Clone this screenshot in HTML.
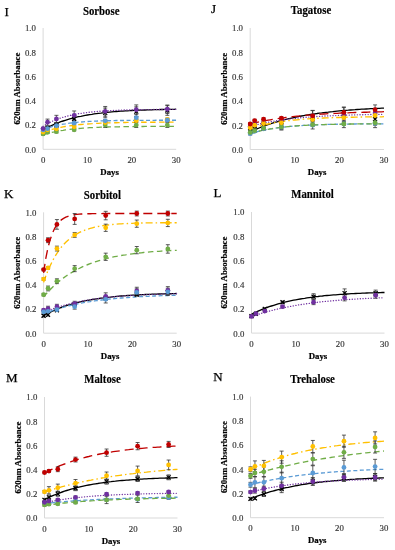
<!DOCTYPE html><html><head><meta charset="utf-8"><style>html,body{margin:0;padding:0;background:#fff;}svg{display:block;will-change:transform;font-family:"Liberation Serif",serif;}.lt{font-size:13px;fill:#000;stroke:#000;stroke-width:.25px}.ti{font-size:10.8px;font-weight:bold;text-anchor:middle;fill:#000;stroke:#000;stroke-width:.15px}.yl{font-size:8.8px;font-weight:bold;text-anchor:middle;fill:#000;stroke:#000;stroke-width:.2px}.tk{font-size:8.8px;fill:#333;stroke:#333;stroke-width:.15px}</style></head><body>
<svg width="395" height="550" viewBox="0 0 395 550">
<rect width="395" height="550" fill="#fff"/>
<text class="lt" x="4.6" y="15.8">I</text>
<text class="ti" transform="translate(101.2,15.00) scale(1,1.18)">Sorbose</text>
<text class="yl" transform="translate(20.2,88.65) rotate(-90) scale(1,0.88)">620nm Absorbance</text>
<text class="tk" x="35.9" y="152.70" text-anchor="end">0.0</text>
<text class="tk" x="35.9" y="128.44" text-anchor="end">0.2</text>
<text class="tk" x="35.9" y="104.18" text-anchor="end">0.4</text>
<text class="tk" x="35.9" y="79.92" text-anchor="end">0.6</text>
<text class="tk" x="35.9" y="55.66" text-anchor="end">0.8</text>
<text class="tk" x="35.9" y="31.40" text-anchor="end">1.0</text>
<text class="tk" x="43.10" y="162.80" text-anchor="middle">0</text>
<text class="tk" x="87.47" y="162.80" text-anchor="middle">10</text>
<text class="tk" x="131.83" y="162.80" text-anchor="middle">20</text>
<text class="tk" x="176.20" y="162.80" text-anchor="middle">30</text>
<text class="yl" x="109.65" y="174.80">Days</text>
<path d="M43.10 28.00V149.30H176.20" fill="none" stroke="#D9D9D9" stroke-width="1"/>
<polyline points="43.1,129.9 45.3,128.6 47.5,127.5 49.8,126.4 52.0,125.3 54.2,124.3 56.4,123.4 58.6,122.6 60.8,121.7 63.1,121.0 65.3,120.3 67.5,119.6 69.7,118.9 71.9,118.3 74.2,117.8 76.4,117.2 78.6,116.7 80.8,116.3 83.0,115.8 85.2,115.4 87.5,115.0 89.7,114.6 91.9,114.3 94.1,113.9 96.3,113.6 98.6,113.3 100.8,113.1 103.0,112.8 105.2,112.6 107.4,112.3 109.7,112.1 111.9,111.9 114.1,111.7 116.3,111.5 118.5,111.4 120.7,111.2 123.0,111.1 125.2,110.9 127.4,110.8 129.6,110.7 131.8,110.5 134.1,110.4 136.3,110.3 138.5,110.2 140.7,110.1 142.9,110.1 145.1,110.0 147.4,109.9 149.6,109.8 151.8,109.8 154.0,109.7 156.2,109.6 158.5,109.6 160.7,109.5 162.9,109.5 165.1,109.4 167.3,109.4 169.5,109.3 171.8,109.3 174.0,109.3 176.2,109.2" fill="none" stroke="#000000" stroke-width="1.35"/>
<polyline points="43.1,134.7 45.3,134.1 47.5,133.4 49.8,132.9 52.0,132.3 54.2,131.9 56.4,131.4 58.6,131.0 60.8,130.6 63.1,130.3 65.3,129.9 67.5,129.6 69.7,129.4 71.9,129.1 74.2,128.9 76.4,128.7 78.6,128.5 80.8,128.3 83.0,128.1 85.2,128.0 87.5,127.9 89.7,127.7 91.9,127.6 94.1,127.5 96.3,127.4 98.6,127.3 100.8,127.2 103.0,127.1 105.2,127.1 107.4,127.0 109.7,126.9 111.9,126.9 114.1,126.8 116.3,126.8 118.5,126.8 120.7,126.7 123.0,126.7 125.2,126.6 127.4,126.6 129.6,126.6 131.8,126.6 134.1,126.5 136.3,126.5 138.5,126.5 140.7,126.5 142.9,126.5 145.1,126.4 147.4,126.4 149.6,126.4 151.8,126.4 154.0,126.4 156.2,126.4 158.5,126.4 160.7,126.4 162.9,126.3 165.1,126.3 167.3,126.3 169.5,126.3 171.8,126.3 174.0,126.3 176.2,126.3" fill="none" stroke="#70AD47" stroke-width="1.35" stroke-dasharray="5.5 3.5"/>
<polyline points="43.1,132.3 45.3,131.5 47.5,130.7 49.8,130.0 52.0,129.4 54.2,128.8 56.4,128.3 58.6,127.8 60.8,127.3 63.1,126.9 65.3,126.5 67.5,126.1 69.7,125.8 71.9,125.5 74.2,125.2 76.4,125.0 78.6,124.7 80.8,124.5 83.0,124.3 85.2,124.1 87.5,124.0 89.7,123.8 91.9,123.7 94.1,123.5 96.3,123.4 98.6,123.3 100.8,123.2 103.0,123.1 105.2,123.0 107.4,122.9 109.7,122.9 111.9,122.8 114.1,122.7 116.3,122.7 118.5,122.6 120.7,122.6 123.0,122.5 125.2,122.5 127.4,122.4 129.6,122.4 131.8,122.4 134.1,122.3 136.3,122.3 138.5,122.3 140.7,122.3 142.9,122.2 145.1,122.2 147.4,122.2 149.6,122.2 151.8,122.2 154.0,122.2 156.2,122.2 158.5,122.1 160.7,122.1 162.9,122.1 165.1,122.1 167.3,122.1 169.5,122.1 171.8,122.1 174.0,122.1 176.2,122.1" fill="none" stroke="#FFC000" stroke-width="1.35" stroke-dasharray="5.5 3.5"/>
<polyline points="43.1,129.9 45.3,129.0 47.5,128.1 49.8,127.4 52.0,126.7 54.2,126.1 56.4,125.5 58.6,125.0 60.8,124.5 63.1,124.1 65.3,123.8 67.5,123.4 69.7,123.1 71.9,122.8 74.2,122.6 76.4,122.4 78.6,122.1 80.8,122.0 83.0,121.8 85.2,121.6 87.5,121.5 89.7,121.4 91.9,121.3 94.1,121.2 96.3,121.1 98.6,121.0 100.8,120.9 103.0,120.8 105.2,120.8 107.4,120.7 109.7,120.7 111.9,120.6 114.1,120.6 116.3,120.5 118.5,120.5 120.7,120.5 123.0,120.5 125.2,120.4 127.4,120.4 129.6,120.4 131.8,120.4 134.1,120.3 136.3,120.3 138.5,120.3 140.7,120.3 142.9,120.3 145.1,120.3 147.4,120.3 149.6,120.3 151.8,120.3 154.0,120.3 156.2,120.2 158.5,120.2 160.7,120.2 162.9,120.2 165.1,120.2 167.3,120.2 169.5,120.2 171.8,120.2 174.0,120.2 176.2,120.2" fill="none" stroke="#5B9BD5" stroke-width="1.35" stroke-dasharray="4 2.5"/>
<polyline points="43.1,126.3 45.3,124.9 47.5,123.6 49.8,122.5 52.0,121.4 54.2,120.5 56.4,119.6 58.6,118.7 60.8,118.0 63.1,117.3 65.3,116.7 67.5,116.1 69.7,115.5 71.9,115.0 74.2,114.6 76.4,114.1 78.6,113.7 80.8,113.4 83.0,113.1 85.2,112.8 87.5,112.5 89.7,112.2 91.9,112.0 94.1,111.8 96.3,111.6 98.6,111.4 100.8,111.2 103.0,111.1 105.2,110.9 107.4,110.8 109.7,110.7 111.9,110.6 114.1,110.5 116.3,110.4 118.5,110.3 120.7,110.2 123.0,110.1 125.2,110.0 127.4,110.0 129.6,109.9 131.8,109.9 134.1,109.8 136.3,109.8 138.5,109.7 140.7,109.7 142.9,109.7 145.1,109.6 147.4,109.6 149.6,109.6 151.8,109.6 154.0,109.5 156.2,109.5 158.5,109.5 160.7,109.5 162.9,109.5 165.1,109.4 167.3,109.4 169.5,109.4 171.8,109.4 174.0,109.4 176.2,109.4" fill="none" stroke="#7030A0" stroke-width="1.35" stroke-dasharray="0.1 2.6" stroke-linecap="round"/>
<path d="M43.10 128.68V131.11M41.10 128.68h4M41.10 131.11h4" stroke="#333333" stroke-width="0.8" fill="none"/>
<path d="M47.54 126.62V129.04M45.54 126.62h4M45.54 129.04h4" stroke="#333333" stroke-width="0.8" fill="none"/>
<path d="M56.41 122.61V127.47M54.41 122.61h4M54.41 127.47h4" stroke="#333333" stroke-width="0.8" fill="none"/>
<path d="M74.16 115.34V122.61M72.16 115.34h4M72.16 122.61h4" stroke="#333333" stroke-width="0.8" fill="none"/>
<path d="M105.21 108.06V117.76M103.21 108.06h4M103.21 117.76h4" stroke="#333333" stroke-width="0.8" fill="none"/>
<path d="M136.27 106.85V116.55M134.27 106.85h4M134.27 116.55h4" stroke="#333333" stroke-width="0.8" fill="none"/>
<path d="M167.33 105.63V115.34M165.33 105.63h4M165.33 115.34h4" stroke="#333333" stroke-width="0.8" fill="none"/>
<path d="M43.10 132.68V135.11M41.10 132.68h4M41.10 135.11h4" stroke="#333333" stroke-width="0.8" fill="none"/>
<path d="M47.54 131.11V133.53M45.54 131.11h4M45.54 133.53h4" stroke="#333333" stroke-width="0.8" fill="none"/>
<path d="M56.41 130.50V132.92M54.41 130.50h4M54.41 132.92h4" stroke="#333333" stroke-width="0.8" fill="none"/>
<path d="M74.16 128.56V130.98M72.16 128.56h4M72.16 130.98h4" stroke="#333333" stroke-width="0.8" fill="none"/>
<path d="M105.21 122.61V127.47M103.21 122.61h4M103.21 127.47h4" stroke="#333333" stroke-width="0.8" fill="none"/>
<path d="M136.27 122.61V127.47M134.27 122.61h4M134.27 127.47h4" stroke="#333333" stroke-width="0.8" fill="none"/>
<path d="M167.33 122.61V127.47M165.33 122.61h4M165.33 127.47h4" stroke="#333333" stroke-width="0.8" fill="none"/>
<path d="M43.10 130.86V133.29M41.10 130.86h4M41.10 133.29h4" stroke="#333333" stroke-width="0.8" fill="none"/>
<path d="M47.54 128.56V130.98M45.54 128.56h4M45.54 130.98h4" stroke="#333333" stroke-width="0.8" fill="none"/>
<path d="M56.41 127.59V130.01M54.41 127.59h4M54.41 130.01h4" stroke="#333333" stroke-width="0.8" fill="none"/>
<path d="M74.16 125.53V127.95M72.16 125.53h4M72.16 127.95h4" stroke="#333333" stroke-width="0.8" fill="none"/>
<path d="M105.21 121.40V123.83M103.21 121.40h4M103.21 123.83h4" stroke="#333333" stroke-width="0.8" fill="none"/>
<path d="M136.27 119.46V121.89M134.27 119.46h4M134.27 121.89h4" stroke="#333333" stroke-width="0.8" fill="none"/>
<path d="M167.33 118.13V120.55M165.33 118.13h4M165.33 120.55h4" stroke="#333333" stroke-width="0.8" fill="none"/>
<path d="M43.10 128.68V131.11M41.10 128.68h4M41.10 131.11h4" stroke="#333333" stroke-width="0.8" fill="none"/>
<path d="M47.54 127.47V129.89M45.54 127.47h4M45.54 129.89h4" stroke="#333333" stroke-width="0.8" fill="none"/>
<path d="M56.41 124.55V126.98M54.41 124.55h4M54.41 126.98h4" stroke="#333333" stroke-width="0.8" fill="none"/>
<path d="M74.16 122.01V124.43M72.16 122.01h4M72.16 124.43h4" stroke="#333333" stroke-width="0.8" fill="none"/>
<path d="M105.21 119.58V122.01M103.21 119.58h4M103.21 122.01h4" stroke="#333333" stroke-width="0.8" fill="none"/>
<path d="M136.27 116.55V118.98M134.27 116.55h4M134.27 118.98h4" stroke="#333333" stroke-width="0.8" fill="none"/>
<path d="M167.33 118.98V121.40M165.33 118.98h4M165.33 121.40h4" stroke="#333333" stroke-width="0.8" fill="none"/>
<path d="M43.10 127.34V129.77M41.10 127.34h4M41.10 129.77h4" stroke="#333333" stroke-width="0.8" fill="none"/>
<path d="M47.54 119.10V125.40M45.54 119.10h4M45.54 125.40h4" stroke="#333333" stroke-width="0.8" fill="none"/>
<path d="M56.41 115.34V122.61M54.41 115.34h4M54.41 122.61h4" stroke="#333333" stroke-width="0.8" fill="none"/>
<path d="M74.16 110.97V119.70M72.16 110.97h4M72.16 119.70h4" stroke="#333333" stroke-width="0.8" fill="none"/>
<path d="M105.21 106.48V116.19M103.21 106.48h4M103.21 116.19h4" stroke="#333333" stroke-width="0.8" fill="none"/>
<path d="M136.27 104.90V114.61M134.27 104.90h4M134.27 114.61h4" stroke="#333333" stroke-width="0.8" fill="none"/>
<path d="M167.33 105.03V113.52M165.33 105.03h4M165.33 113.52h4" stroke="#333333" stroke-width="0.8" fill="none"/>
<path d="M41.10 127.89l4 4M41.10 131.89l4 -4" stroke="#000" stroke-width="1.2"/>
<path d="M45.54 125.83l4 4M45.54 129.83l4 -4" stroke="#000" stroke-width="1.2"/>
<path d="M54.41 123.04l4 4M54.41 127.04l4 -4" stroke="#000" stroke-width="1.2"/>
<path d="M72.16 116.98l4 4M72.16 120.98l4 -4" stroke="#000" stroke-width="1.2"/>
<path d="M103.21 110.91l4 4M103.21 114.91l4 -4" stroke="#000" stroke-width="1.2"/>
<path d="M134.27 109.70l4 4M134.27 113.70l4 -4" stroke="#000" stroke-width="1.2"/>
<path d="M165.33 108.48l4 4M165.33 112.48l4 -4" stroke="#000" stroke-width="1.2"/>
<circle cx="43.10" cy="133.89" r="2.4" fill="#70AD47"/>
<circle cx="47.54" cy="132.32" r="2.4" fill="#70AD47"/>
<circle cx="56.41" cy="131.71" r="2.4" fill="#70AD47"/>
<circle cx="74.16" cy="129.77" r="2.4" fill="#70AD47"/>
<circle cx="105.21" cy="125.04" r="2.4" fill="#70AD47"/>
<circle cx="136.27" cy="125.04" r="2.4" fill="#70AD47"/>
<circle cx="167.33" cy="125.04" r="2.4" fill="#70AD47"/>
<circle cx="43.10" cy="132.08" r="2.4" fill="#FFC000"/>
<circle cx="47.54" cy="129.77" r="2.4" fill="#FFC000"/>
<circle cx="56.41" cy="128.80" r="2.4" fill="#FFC000"/>
<circle cx="74.16" cy="126.74" r="2.4" fill="#FFC000"/>
<circle cx="105.21" cy="122.61" r="2.4" fill="#FFC000"/>
<circle cx="136.27" cy="120.67" r="2.4" fill="#FFC000"/>
<circle cx="167.33" cy="119.34" r="2.4" fill="#FFC000"/>
<circle cx="43.10" cy="129.89" r="2.4" fill="#5B9BD5"/>
<circle cx="47.54" cy="128.68" r="2.4" fill="#5B9BD5"/>
<circle cx="56.41" cy="125.77" r="2.4" fill="#5B9BD5"/>
<circle cx="74.16" cy="123.22" r="2.4" fill="#5B9BD5"/>
<circle cx="105.21" cy="120.79" r="2.4" fill="#5B9BD5"/>
<circle cx="136.27" cy="117.76" r="2.4" fill="#5B9BD5"/>
<circle cx="167.33" cy="120.19" r="2.4" fill="#5B9BD5"/>
<circle cx="43.10" cy="128.56" r="2.4" fill="#7030A0"/>
<circle cx="47.54" cy="122.25" r="2.4" fill="#7030A0"/>
<circle cx="56.41" cy="118.98" r="2.4" fill="#7030A0"/>
<circle cx="74.16" cy="115.34" r="2.4" fill="#7030A0"/>
<circle cx="105.21" cy="111.33" r="2.4" fill="#7030A0"/>
<circle cx="136.27" cy="109.76" r="2.4" fill="#7030A0"/>
<circle cx="167.33" cy="109.27" r="2.4" fill="#7030A0"/>
<text class="lt" x="210.9" y="12.7">J</text>
<text class="ti" transform="translate(311,14.00) scale(1,1.18)">Tagatose</text>
<text class="yl" transform="translate(226.89999999999998,88.75) rotate(-90) scale(1,0.88)">620nm Absorbance</text>
<text class="tk" x="243.0" y="152.90" text-anchor="end">0.0</text>
<text class="tk" x="243.0" y="128.60" text-anchor="end">0.2</text>
<text class="tk" x="243.0" y="104.30" text-anchor="end">0.4</text>
<text class="tk" x="243.0" y="80.00" text-anchor="end">0.6</text>
<text class="tk" x="243.0" y="55.70" text-anchor="end">0.8</text>
<text class="tk" x="243.0" y="31.40" text-anchor="end">1.0</text>
<text class="tk" x="250.20" y="163.00" text-anchor="middle">0</text>
<text class="tk" x="294.80" y="163.00" text-anchor="middle">10</text>
<text class="tk" x="339.40" y="163.00" text-anchor="middle">20</text>
<text class="tk" x="384.00" y="163.00" text-anchor="middle">30</text>
<text class="yl" x="317.10" y="175.00">Days</text>
<path d="M250.20 28.00V149.50H384.00" fill="none" stroke="#D9D9D9" stroke-width="1"/>
<polyline points="250.2,132.0 252.4,130.9 254.7,129.9 256.9,128.9 259.1,128.0 261.3,127.1 263.6,126.3 265.8,125.4 268.0,124.6 270.3,123.9 272.5,123.1 274.7,122.4 277.0,121.8 279.2,121.1 281.4,120.5 283.6,119.9 285.9,119.4 288.1,118.8 290.3,118.3 292.6,117.8 294.8,117.3 297.0,116.8 299.3,116.4 301.5,116.0 303.7,115.6 305.9,115.2 308.2,114.8 310.4,114.4 312.6,114.1 314.9,113.8 317.1,113.5 319.3,113.1 321.6,112.9 323.8,112.6 326.0,112.3 328.2,112.1 330.5,111.8 332.7,111.6 334.9,111.3 337.2,111.1 339.4,110.9 341.6,110.7 343.9,110.5 346.1,110.3 348.3,110.2 350.6,110.0 352.8,109.8 355.0,109.7 357.2,109.5 359.5,109.4 361.7,109.2 363.9,109.1 366.2,109.0 368.4,108.9 370.6,108.7 372.9,108.6 375.1,108.5 377.3,108.4 379.5,108.3 381.8,108.2 384.0,108.1" fill="none" stroke="#000000" stroke-width="1.35"/>
<polyline points="250.2,133.7 252.4,133.0 254.7,132.4 256.9,131.8 259.1,131.2 261.3,130.7 263.6,130.2 265.8,129.7 268.0,129.3 270.3,128.9 272.5,128.6 274.7,128.2 277.0,127.9 279.2,127.6 281.4,127.3 283.6,127.1 285.9,126.8 288.1,126.6 290.3,126.4 292.6,126.2 294.8,126.0 297.0,125.9 299.3,125.7 301.5,125.6 303.7,125.4 305.9,125.3 308.2,125.2 310.4,125.1 312.6,125.0 314.9,124.9 317.1,124.8 319.3,124.7 321.6,124.6 323.8,124.6 326.0,124.5 328.2,124.4 330.5,124.4 332.7,124.3 334.9,124.3 337.2,124.2 339.4,124.2 341.6,124.2 343.9,124.1 346.1,124.1 348.3,124.1 350.6,124.0 352.8,124.0 355.0,124.0 357.2,123.9 359.5,123.9 361.7,123.9 363.9,123.9 366.2,123.9 368.4,123.8 370.6,123.8 372.9,123.8 375.1,123.8 377.3,123.8 379.5,123.8 381.8,123.8 384.0,123.8" fill="none" stroke="#5B9BD5" stroke-width="1.35" stroke-dasharray="4 2.5"/>
<polyline points="250.2,133.7 252.4,133.0 254.7,132.4 256.9,131.8 259.1,131.2 261.3,130.7 263.6,130.2 265.8,129.7 268.0,129.3 270.3,128.9 272.5,128.6 274.7,128.2 277.0,127.9 279.2,127.6 281.4,127.3 283.6,127.1 285.9,126.8 288.1,126.6 290.3,126.4 292.6,126.2 294.8,126.0 297.0,125.9 299.3,125.7 301.5,125.6 303.7,125.4 305.9,125.3 308.2,125.2 310.4,125.1 312.6,125.0 314.9,124.9 317.1,124.8 319.3,124.7 321.6,124.6 323.8,124.6 326.0,124.5 328.2,124.4 330.5,124.4 332.7,124.3 334.9,124.3 337.2,124.2 339.4,124.2 341.6,124.2 343.9,124.1 346.1,124.1 348.3,124.1 350.6,124.0 352.8,124.0 355.0,124.0 357.2,123.9 359.5,123.9 361.7,123.9 363.9,123.9 366.2,123.9 368.4,123.8 370.6,123.8 372.9,123.8 375.1,123.8 377.3,123.8 379.5,123.8 381.8,123.8 384.0,123.8" fill="none" stroke="#70AD47" stroke-width="1.35" stroke-dasharray="5.5 3.5"/>
<polyline points="250.2,126.4 252.4,125.8 254.7,125.2 256.9,124.6 259.1,124.1 261.3,123.6 263.6,123.1 265.8,122.6 268.0,122.2 270.3,121.8 272.5,121.4 274.7,121.0 277.0,120.7 279.2,120.3 281.4,120.0 283.6,119.7 285.9,119.4 288.1,119.1 290.3,118.8 292.6,118.6 294.8,118.4 297.0,118.1 299.3,117.9 301.5,117.7 303.7,117.5 305.9,117.3 308.2,117.1 310.4,117.0 312.6,116.8 314.9,116.7 317.1,116.5 319.3,116.4 321.6,116.2 323.8,116.1 326.0,116.0 328.2,115.9 330.5,115.8 332.7,115.7 334.9,115.6 337.2,115.5 339.4,115.4 341.6,115.3 343.9,115.2 346.1,115.1 348.3,115.1 350.6,115.0 352.8,114.9 355.0,114.9 357.2,114.8 359.5,114.8 361.7,114.7 363.9,114.7 366.2,114.6 368.4,114.6 370.6,114.5 372.9,114.5 375.1,114.4 377.3,114.4 379.5,114.4 381.8,114.3 384.0,114.3" fill="none" stroke="#7030A0" stroke-width="1.35" stroke-dasharray="0.1 2.6" stroke-linecap="round"/>
<polyline points="250.2,128.8 252.4,128.1 254.7,127.4 256.9,126.7 259.1,126.1 261.3,125.5 263.6,125.0 265.8,124.5 268.0,124.0 270.3,123.5 272.5,123.1 274.7,122.7 277.0,122.3 279.2,122.0 281.4,121.6 283.6,121.3 285.9,121.0 288.1,120.7 290.3,120.5 292.6,120.2 294.8,120.0 297.0,119.8 299.3,119.6 301.5,119.4 303.7,119.2 305.9,119.0 308.2,118.9 310.4,118.7 312.6,118.6 314.9,118.5 317.1,118.4 319.3,118.2 321.6,118.1 323.8,118.0 326.0,117.9 328.2,117.8 330.5,117.8 332.7,117.7 334.9,117.6 337.2,117.5 339.4,117.5 341.6,117.4 343.9,117.3 346.1,117.3 348.3,117.2 350.6,117.2 352.8,117.2 355.0,117.1 357.2,117.1 359.5,117.0 361.7,117.0 363.9,117.0 366.2,116.9 368.4,116.9 370.6,116.9 372.9,116.9 375.1,116.8 377.3,116.8 379.5,116.8 381.8,116.8 384.0,116.7" fill="none" stroke="#FFC000" stroke-width="1.35" stroke-dasharray="7 3 1.5 3"/>
<polyline points="250.2,124.0 252.4,123.4 254.7,122.9 256.9,122.4 259.1,121.9 261.3,121.5 263.6,121.0 265.8,120.6 268.0,120.2 270.3,119.8 272.5,119.4 274.7,119.1 277.0,118.7 279.2,118.4 281.4,118.1 283.6,117.8 285.9,117.5 288.1,117.2 290.3,116.9 292.6,116.7 294.8,116.4 297.0,116.2 299.3,116.0 301.5,115.7 303.7,115.5 305.9,115.3 308.2,115.1 310.4,115.0 312.6,114.8 314.9,114.6 317.1,114.4 319.3,114.3 321.6,114.1 323.8,114.0 326.0,113.9 328.2,113.7 330.5,113.6 332.7,113.5 334.9,113.4 337.2,113.3 339.4,113.1 341.6,113.0 343.9,112.9 346.1,112.8 348.3,112.8 350.6,112.7 352.8,112.6 355.0,112.5 357.2,112.4 359.5,112.4 361.7,112.3 363.9,112.2 366.2,112.2 368.4,112.1 370.6,112.0 372.9,112.0 375.1,111.9 377.3,111.9 379.5,111.8 381.8,111.8 384.0,111.7" fill="none" stroke="#C00000" stroke-width="1.35" stroke-dasharray="9 5"/>
<path d="M250.20 130.06V132.49M248.20 130.06h4M248.20 132.49h4" stroke="#333333" stroke-width="0.8" fill="none"/>
<path d="M254.66 127.63V130.06M252.66 127.63h4M252.66 130.06h4" stroke="#333333" stroke-width="0.8" fill="none"/>
<path d="M263.58 122.77V130.06M261.58 122.77h4M261.58 130.06h4" stroke="#333333" stroke-width="0.8" fill="none"/>
<path d="M281.42 120.34V130.06M279.42 120.34h4M279.42 130.06h4" stroke="#333333" stroke-width="0.8" fill="none"/>
<path d="M312.64 110.62V122.77M310.64 110.62h4M310.64 122.77h4" stroke="#333333" stroke-width="0.8" fill="none"/>
<path d="M343.86 106.97V121.56M341.86 106.97h4M341.86 121.56h4" stroke="#333333" stroke-width="0.8" fill="none"/>
<path d="M375.08 113.05V125.20M373.08 113.05h4M373.08 125.20h4" stroke="#333333" stroke-width="0.8" fill="none"/>
<path d="M250.20 132.49V134.92M248.20 132.49h4M248.20 134.92h4" stroke="#333333" stroke-width="0.8" fill="none"/>
<path d="M254.66 130.06V132.49M252.66 130.06h4M252.66 132.49h4" stroke="#333333" stroke-width="0.8" fill="none"/>
<path d="M263.58 127.63V130.06M261.58 127.63h4M261.58 130.06h4" stroke="#333333" stroke-width="0.8" fill="none"/>
<path d="M281.42 125.81V128.24M279.42 125.81h4M279.42 128.24h4" stroke="#333333" stroke-width="0.8" fill="none"/>
<path d="M312.64 123.98V126.41M310.64 123.98h4M310.64 126.41h4" stroke="#333333" stroke-width="0.8" fill="none"/>
<path d="M343.86 122.77V125.20M341.86 122.77h4M341.86 125.20h4" stroke="#333333" stroke-width="0.8" fill="none"/>
<path d="M375.08 122.16V124.59M373.08 122.16h4M373.08 124.59h4" stroke="#333333" stroke-width="0.8" fill="none"/>
<path d="M250.20 131.28V133.71M248.20 131.28h4M248.20 133.71h4" stroke="#333333" stroke-width="0.8" fill="none"/>
<path d="M254.66 129.45V131.88M252.66 129.45h4M252.66 131.88h4" stroke="#333333" stroke-width="0.8" fill="none"/>
<path d="M263.58 127.02V129.45M261.58 127.02h4M261.58 129.45h4" stroke="#333333" stroke-width="0.8" fill="none"/>
<path d="M281.42 124.47V129.33M279.42 124.47h4M279.42 129.33h4" stroke="#333333" stroke-width="0.8" fill="none"/>
<path d="M312.64 120.46V128.97M310.64 120.46h4M310.64 128.97h4" stroke="#333333" stroke-width="0.8" fill="none"/>
<path d="M343.86 120.34V127.63M341.86 120.34h4M341.86 127.63h4" stroke="#333333" stroke-width="0.8" fill="none"/>
<path d="M375.08 117.91V127.63M373.08 117.91h4M373.08 127.63h4" stroke="#333333" stroke-width="0.8" fill="none"/>
<path d="M250.20 125.20V127.63M248.20 125.20h4M248.20 127.63h4" stroke="#333333" stroke-width="0.8" fill="none"/>
<path d="M254.66 122.77V125.20M252.66 122.77h4M252.66 125.20h4" stroke="#333333" stroke-width="0.8" fill="none"/>
<path d="M263.58 121.56V123.98M261.58 121.56h4M261.58 123.98h4" stroke="#333333" stroke-width="0.8" fill="none"/>
<path d="M281.42 119.12V121.56M279.42 119.12h4M279.42 121.56h4" stroke="#333333" stroke-width="0.8" fill="none"/>
<path d="M312.64 114.87V117.30M310.64 114.87h4M310.64 117.30h4" stroke="#333333" stroke-width="0.8" fill="none"/>
<path d="M343.86 113.66V116.09M341.86 113.66h4M341.86 116.09h4" stroke="#333333" stroke-width="0.8" fill="none"/>
<path d="M375.08 111.84V114.27M373.08 111.84h4M373.08 114.27h4" stroke="#333333" stroke-width="0.8" fill="none"/>
<path d="M250.20 126.41V128.84M248.20 126.41h4M248.20 128.84h4" stroke="#333333" stroke-width="0.8" fill="none"/>
<path d="M254.66 123.98V126.41M252.66 123.98h4M252.66 126.41h4" stroke="#333333" stroke-width="0.8" fill="none"/>
<path d="M263.58 122.28V124.71M261.58 122.28h4M261.58 124.71h4" stroke="#333333" stroke-width="0.8" fill="none"/>
<path d="M281.42 121.56V123.98M279.42 121.56h4M279.42 123.98h4" stroke="#333333" stroke-width="0.8" fill="none"/>
<path d="M312.64 118.40V120.83M310.64 118.40h4M310.64 120.83h4" stroke="#333333" stroke-width="0.8" fill="none"/>
<path d="M343.86 116.45V118.88M341.86 116.45h4M341.86 118.88h4" stroke="#333333" stroke-width="0.8" fill="none"/>
<path d="M375.08 114.26V116.69M373.08 114.26h4M373.08 116.69h4" stroke="#333333" stroke-width="0.8" fill="none"/>
<path d="M250.20 122.77V125.20M248.20 122.77h4M248.20 125.20h4" stroke="#333333" stroke-width="0.8" fill="none"/>
<path d="M254.66 119.37V121.80M252.66 119.37h4M252.66 121.80h4" stroke="#333333" stroke-width="0.8" fill="none"/>
<path d="M263.58 118.03V120.46M261.58 118.03h4M261.58 120.46h4" stroke="#333333" stroke-width="0.8" fill="none"/>
<path d="M281.42 116.94V119.37M279.42 116.94h4M279.42 119.37h4" stroke="#333333" stroke-width="0.8" fill="none"/>
<path d="M312.64 110.38V121.31M310.64 110.38h4M310.64 121.31h4" stroke="#333333" stroke-width="0.8" fill="none"/>
<path d="M343.86 107.58V117.30M341.86 107.58h4M341.86 117.30h4" stroke="#333333" stroke-width="0.8" fill="none"/>
<path d="M375.08 104.91V114.63M373.08 104.91h4M373.08 114.63h4" stroke="#333333" stroke-width="0.8" fill="none"/>
<path d="M248.20 129.28l4 4M248.20 133.28l4 -4" stroke="#000" stroke-width="1.2"/>
<path d="M252.66 126.84l4 4M252.66 130.84l4 -4" stroke="#000" stroke-width="1.2"/>
<path d="M261.58 124.41l4 4M261.58 128.41l4 -4" stroke="#000" stroke-width="1.2"/>
<path d="M279.42 123.20l4 4M279.42 127.20l4 -4" stroke="#000" stroke-width="1.2"/>
<path d="M310.64 114.69l4 4M310.64 118.69l4 -4" stroke="#000" stroke-width="1.2"/>
<path d="M341.86 112.27l4 4M341.86 116.27l4 -4" stroke="#000" stroke-width="1.2"/>
<path d="M373.08 117.12l4 4M373.08 121.12l4 -4" stroke="#000" stroke-width="1.2"/>
<circle cx="250.20" cy="133.71" r="2.4" fill="#5B9BD5"/>
<circle cx="254.66" cy="131.28" r="2.4" fill="#5B9BD5"/>
<circle cx="263.58" cy="128.84" r="2.4" fill="#5B9BD5"/>
<circle cx="281.42" cy="127.02" r="2.4" fill="#5B9BD5"/>
<circle cx="312.64" cy="125.20" r="2.4" fill="#5B9BD5"/>
<circle cx="343.86" cy="123.98" r="2.4" fill="#5B9BD5"/>
<circle cx="375.08" cy="123.38" r="2.4" fill="#5B9BD5"/>
<circle cx="250.20" cy="132.49" r="2.4" fill="#70AD47"/>
<circle cx="254.66" cy="130.67" r="2.4" fill="#70AD47"/>
<circle cx="263.58" cy="128.24" r="2.4" fill="#70AD47"/>
<circle cx="281.42" cy="126.90" r="2.4" fill="#70AD47"/>
<circle cx="312.64" cy="124.71" r="2.4" fill="#70AD47"/>
<circle cx="343.86" cy="123.98" r="2.4" fill="#70AD47"/>
<circle cx="375.08" cy="122.77" r="2.4" fill="#70AD47"/>
<circle cx="250.20" cy="126.41" r="2.4" fill="#7030A0"/>
<circle cx="254.66" cy="123.98" r="2.4" fill="#7030A0"/>
<circle cx="263.58" cy="122.77" r="2.4" fill="#7030A0"/>
<circle cx="281.42" cy="120.34" r="2.4" fill="#7030A0"/>
<circle cx="312.64" cy="116.09" r="2.4" fill="#7030A0"/>
<circle cx="343.86" cy="114.87" r="2.4" fill="#7030A0"/>
<circle cx="375.08" cy="113.05" r="2.4" fill="#7030A0"/>
<circle cx="250.20" cy="127.63" r="2.4" fill="#FFC000"/>
<circle cx="254.66" cy="125.20" r="2.4" fill="#FFC000"/>
<circle cx="263.58" cy="123.50" r="2.4" fill="#FFC000"/>
<circle cx="281.42" cy="122.77" r="2.4" fill="#FFC000"/>
<circle cx="312.64" cy="119.61" r="2.4" fill="#FFC000"/>
<circle cx="343.86" cy="117.67" r="2.4" fill="#FFC000"/>
<circle cx="375.08" cy="115.48" r="2.4" fill="#FFC000"/>
<circle cx="250.20" cy="123.98" r="2.4" fill="#C00000"/>
<circle cx="254.66" cy="120.58" r="2.4" fill="#C00000"/>
<circle cx="263.58" cy="119.25" r="2.4" fill="#C00000"/>
<circle cx="281.42" cy="118.15" r="2.4" fill="#C00000"/>
<circle cx="312.64" cy="115.84" r="2.4" fill="#C00000"/>
<circle cx="343.86" cy="112.44" r="2.4" fill="#C00000"/>
<circle cx="375.08" cy="109.77" r="2.4" fill="#C00000"/>
<text class="lt" x="3.9" y="197.8">K</text>
<text class="ti" transform="translate(102.4,198.90) scale(1,1.18)">Sorbitol</text>
<text class="yl" transform="translate(20.3,272.75) rotate(-90) scale(1,0.88)">620nm Absorbance</text>
<text class="tk" x="36.4" y="336.60" text-anchor="end">0.0</text>
<text class="tk" x="36.4" y="312.42" text-anchor="end">0.2</text>
<text class="tk" x="36.4" y="288.24" text-anchor="end">0.4</text>
<text class="tk" x="36.4" y="264.06" text-anchor="end">0.6</text>
<text class="tk" x="36.4" y="239.88" text-anchor="end">0.8</text>
<text class="tk" x="36.4" y="215.70" text-anchor="end">1.0</text>
<text class="tk" x="43.60" y="346.70" text-anchor="middle">0</text>
<text class="tk" x="87.97" y="346.70" text-anchor="middle">10</text>
<text class="tk" x="132.33" y="346.70" text-anchor="middle">20</text>
<text class="tk" x="176.70" y="346.70" text-anchor="middle">30</text>
<text class="yl" x="110.15" y="358.70">Days</text>
<path d="M43.60 212.30V333.20H176.70" fill="none" stroke="#D9D9D9" stroke-width="1"/>
<polyline points="43.6,315.8 45.8,314.5 48.0,313.4 50.3,312.2 52.5,311.2 54.7,310.2 56.9,309.2 59.1,308.4 61.3,307.5 63.6,306.7 65.8,305.9 68.0,305.2 70.2,304.6 72.4,303.9 74.7,303.3 76.9,302.7 79.1,302.2 81.3,301.7 83.5,301.2 85.7,300.7 88.0,300.3 90.2,299.9 92.4,299.5 94.6,299.1 96.8,298.8 99.1,298.5 101.3,298.1 103.5,297.9 105.7,297.6 107.9,297.3 110.2,297.1 112.4,296.8 114.6,296.6 116.8,296.4 119.0,296.2 121.2,296.0 123.5,295.8 125.7,295.7 127.9,295.5 130.1,295.3 132.3,295.2 134.6,295.1 136.8,294.9 139.0,294.8 141.2,294.7 143.4,294.6 145.6,294.5 147.9,294.4 150.1,294.3 152.3,294.2 154.5,294.1 156.7,294.1 159.0,294.0 161.2,293.9 163.4,293.8 165.6,293.8 167.8,293.7 170.0,293.7 172.3,293.6 174.5,293.6 176.7,293.5" fill="none" stroke="#000000" stroke-width="1.35"/>
<polyline points="43.6,312.6 45.8,311.7 48.0,310.7 50.3,309.9 52.5,309.0 54.7,308.2 56.9,307.5 59.1,306.8 61.3,306.1 63.6,305.4 65.8,304.8 68.0,304.2 70.2,303.6 72.4,303.1 74.7,302.6 76.9,302.1 79.1,301.7 81.3,301.2 83.5,300.8 85.7,300.4 88.0,300.0 90.2,299.7 92.4,299.3 94.6,299.0 96.8,298.7 99.1,298.4 101.3,298.1 103.5,297.9 105.7,297.6 107.9,297.4 110.2,297.1 112.4,296.9 114.6,296.7 116.8,296.5 119.0,296.3 121.2,296.2 123.5,296.0 125.7,295.8 127.9,295.7 130.1,295.5 132.3,295.4 134.6,295.3 136.8,295.1 139.0,295.0 141.2,294.9 143.4,294.8 145.6,294.7 147.9,294.6 150.1,294.5 152.3,294.4 154.5,294.3 156.7,294.3 159.0,294.2 161.2,294.1 163.4,294.0 165.6,294.0 167.8,293.9 170.0,293.9 172.3,293.8 174.5,293.7 176.7,293.7" fill="none" stroke="#7030A0" stroke-width="1.35" stroke-dasharray="0.1 2.6" stroke-linecap="round"/>
<polyline points="43.6,313.9 45.8,313.0 48.0,312.1 50.3,311.3 52.5,310.5 54.7,309.8 56.9,309.1 59.1,308.4 61.3,307.8 63.6,307.2 65.8,306.6 68.0,306.0 70.2,305.5 72.4,305.0 74.7,304.5 76.9,304.0 79.1,303.5 81.3,303.1 83.5,302.7 85.7,302.3 88.0,301.9 90.2,301.6 92.4,301.2 94.6,300.9 96.8,300.6 99.1,300.3 101.3,300.0 103.5,299.8 105.7,299.5 107.9,299.2 110.2,299.0 112.4,298.8 114.6,298.6 116.8,298.4 119.0,298.2 121.2,298.0 123.5,297.8 125.7,297.6 127.9,297.5 130.1,297.3 132.3,297.1 134.6,297.0 136.8,296.9 139.0,296.7 141.2,296.6 143.4,296.5 145.6,296.4 147.9,296.3 150.1,296.2 152.3,296.1 154.5,296.0 156.7,295.9 159.0,295.8 161.2,295.7 163.4,295.6 165.6,295.5 167.8,295.5 170.0,295.4 172.3,295.3 174.5,295.3 176.7,295.2" fill="none" stroke="#5B9BD5" stroke-width="1.35" stroke-dasharray="4 2.5"/>
<polyline points="43.6,296.9 45.8,294.3 48.0,291.8 50.3,289.5 52.5,287.3 54.7,285.2 56.9,283.2 59.1,281.3 61.3,279.6 63.6,277.9 65.8,276.3 68.0,274.8 70.2,273.4 72.4,272.1 74.7,270.8 76.9,269.6 79.1,268.5 81.3,267.4 83.5,266.4 85.7,265.4 88.0,264.5 90.2,263.6 92.4,262.8 94.6,262.0 96.8,261.3 99.1,260.6 101.3,260.0 103.5,259.4 105.7,258.8 107.9,258.2 110.2,257.7 112.4,257.2 114.6,256.7 116.8,256.3 119.0,255.9 121.2,255.5 123.5,255.1 125.7,254.8 127.9,254.4 130.1,254.1 132.3,253.8 134.6,253.5 136.8,253.3 139.0,253.0 141.2,252.8 143.4,252.5 145.6,252.3 147.9,252.1 150.1,251.9 152.3,251.7 154.5,251.6 156.7,251.4 159.0,251.3 161.2,251.1 163.4,251.0 165.6,250.8 167.8,250.7 170.0,250.6 172.3,250.5 174.5,250.4 176.7,250.3" fill="none" stroke="#70AD47" stroke-width="1.35" stroke-dasharray="5.5 3.5"/>
<polyline points="43.6,282.4 45.8,276.1 48.0,270.5 50.3,265.5 52.5,260.9 54.7,256.9 56.9,253.3 59.1,250.1 61.3,247.2 63.6,244.6 65.8,242.3 68.0,240.2 70.2,238.4 72.4,236.7 74.7,235.2 76.9,233.9 79.1,232.7 81.3,231.6 83.5,230.7 85.7,229.8 88.0,229.1 90.2,228.4 92.4,227.8 94.6,227.2 96.8,226.7 99.1,226.3 101.3,225.9 103.5,225.6 105.7,225.2 107.9,225.0 110.2,224.7 112.4,224.5 114.6,224.3 116.8,224.1 119.0,223.9 121.2,223.8 123.5,223.7 125.7,223.6 127.9,223.5 130.1,223.4 132.3,223.3 134.6,223.2 136.8,223.1 139.0,223.1 141.2,223.0 143.4,223.0 145.6,222.9 147.9,222.9 150.1,222.9 152.3,222.8 154.5,222.8 156.7,222.8 159.0,222.8 161.2,222.7 163.4,222.7 165.6,222.7 167.8,222.7 170.0,222.7 172.3,222.7 174.5,222.7 176.7,222.7" fill="none" stroke="#FFC000" stroke-width="1.35" stroke-dasharray="7 3 1.5 3"/>
<polyline points="43.6,272.8 45.8,258.4 48.0,247.5 50.3,239.3 52.5,233.0 54.7,228.3 56.9,224.7 59.1,222.0 61.3,219.9 63.6,218.4 65.8,217.2 68.0,216.3 70.2,215.6 72.4,215.1 74.7,214.7 76.9,214.4 79.1,214.2 81.3,214.0 83.5,213.9 85.7,213.8 88.0,213.7 90.2,213.7 92.4,213.6 94.6,213.6 96.8,213.6 99.1,213.6 101.3,213.6 103.5,213.5 105.7,213.5 107.9,213.5 110.2,213.5 112.4,213.5 114.6,213.5 116.8,213.5 119.0,213.5 121.2,213.5 123.5,213.5 125.7,213.5 127.9,213.5 130.1,213.5 132.3,213.5 134.6,213.5 136.8,213.5 139.0,213.5 141.2,213.5 143.4,213.5 145.6,213.5 147.9,213.5 150.1,213.5 152.3,213.5 154.5,213.5 156.7,213.5 159.0,213.5 161.2,213.5 163.4,213.5 165.6,213.5 167.8,213.5 170.0,213.5 172.3,213.5 174.5,213.5 176.7,213.5" fill="none" stroke="#C00000" stroke-width="1.35" stroke-dasharray="9 5"/>
<path d="M43.60 314.58V317.00M41.60 314.58h4M41.60 317.00h4" stroke="#333333" stroke-width="0.8" fill="none"/>
<path d="M48.04 313.61V316.03M46.04 313.61h4M46.04 316.03h4" stroke="#333333" stroke-width="0.8" fill="none"/>
<path d="M56.91 309.02V311.44M54.91 309.02h4M54.91 311.44h4" stroke="#333333" stroke-width="0.8" fill="none"/>
<path d="M74.66 302.98V305.39M72.66 302.98h4M72.66 305.39h4" stroke="#333333" stroke-width="0.8" fill="none"/>
<path d="M105.71 296.93V299.35M103.71 296.93h4M103.71 299.35h4" stroke="#333333" stroke-width="0.8" fill="none"/>
<path d="M136.77 293.30V295.72M134.77 293.30h4M134.77 295.72h4" stroke="#333333" stroke-width="0.8" fill="none"/>
<path d="M167.83 290.88V293.30M165.83 290.88h4M165.83 293.30h4" stroke="#333333" stroke-width="0.8" fill="none"/>
<path d="M43.60 309.02V311.44M41.60 309.02h4M41.60 311.44h4" stroke="#333333" stroke-width="0.8" fill="none"/>
<path d="M48.04 306.24V311.08M46.04 306.24h4M46.04 311.08h4" stroke="#333333" stroke-width="0.8" fill="none"/>
<path d="M56.91 304.30V309.14M54.91 304.30h4M54.91 309.14h4" stroke="#333333" stroke-width="0.8" fill="none"/>
<path d="M74.66 301.28V306.12M72.66 301.28h4M72.66 306.12h4" stroke="#333333" stroke-width="0.8" fill="none"/>
<path d="M105.71 292.82V300.07M103.71 292.82h4M103.71 300.07h4" stroke="#333333" stroke-width="0.8" fill="none"/>
<path d="M136.77 287.26V294.51M134.77 287.26h4M134.77 294.51h4" stroke="#333333" stroke-width="0.8" fill="none"/>
<path d="M167.83 286.65V293.91M165.83 286.65h4M165.83 293.91h4" stroke="#333333" stroke-width="0.8" fill="none"/>
<path d="M43.60 310.59V313.01M41.60 310.59h4M41.60 313.01h4" stroke="#333333" stroke-width="0.8" fill="none"/>
<path d="M48.04 310.11V312.53M46.04 310.11h4M46.04 312.53h4" stroke="#333333" stroke-width="0.8" fill="none"/>
<path d="M56.91 308.54V310.95M54.91 308.54h4M54.91 310.95h4" stroke="#333333" stroke-width="0.8" fill="none"/>
<path d="M74.66 304.30V309.14M72.66 304.30h4M72.66 309.14h4" stroke="#333333" stroke-width="0.8" fill="none"/>
<path d="M105.71 295.72V302.98M103.71 295.72h4M103.71 302.98h4" stroke="#333333" stroke-width="0.8" fill="none"/>
<path d="M136.77 288.83V296.08M134.77 288.83h4M134.77 296.08h4" stroke="#333333" stroke-width="0.8" fill="none"/>
<path d="M167.83 288.23V295.48M165.83 288.23h4M165.83 295.48h4" stroke="#333333" stroke-width="0.8" fill="none"/>
<path d="M43.60 293.42V295.84M41.60 293.42h4M41.60 295.84h4" stroke="#333333" stroke-width="0.8" fill="none"/>
<path d="M48.04 286.05V290.88M46.04 286.05h4M46.04 290.88h4" stroke="#333333" stroke-width="0.8" fill="none"/>
<path d="M56.91 278.80V283.63M54.91 278.80h4M54.91 283.63h4" stroke="#333333" stroke-width="0.8" fill="none"/>
<path d="M74.66 265.62V271.66M72.66 265.62h4M72.66 271.66h4" stroke="#333333" stroke-width="0.8" fill="none"/>
<path d="M105.71 253.16V260.42M103.71 253.16h4M103.71 260.42h4" stroke="#333333" stroke-width="0.8" fill="none"/>
<path d="M136.77 246.51V253.77M134.77 246.51h4M134.77 253.77h4" stroke="#333333" stroke-width="0.8" fill="none"/>
<path d="M167.83 244.70V253.16M165.83 244.70h4M165.83 253.16h4" stroke="#333333" stroke-width="0.8" fill="none"/>
<path d="M43.60 277.83V280.25M41.60 277.83h4M41.60 280.25h4" stroke="#333333" stroke-width="0.8" fill="none"/>
<path d="M48.04 266.70V269.12M46.04 266.70h4M46.04 269.12h4" stroke="#333333" stroke-width="0.8" fill="none"/>
<path d="M56.91 246.15V250.99M54.91 246.15h4M54.91 250.99h4" stroke="#333333" stroke-width="0.8" fill="none"/>
<path d="M74.66 232.49V237.33M72.66 232.49h4M72.66 237.33h4" stroke="#333333" stroke-width="0.8" fill="none"/>
<path d="M105.71 224.15V231.40M103.71 224.15h4M103.71 231.40h4" stroke="#333333" stroke-width="0.8" fill="none"/>
<path d="M136.77 220.04V227.29M134.77 220.04h4M134.77 227.29h4" stroke="#333333" stroke-width="0.8" fill="none"/>
<path d="M167.83 219.31V226.57M165.83 219.31h4M165.83 226.57h4" stroke="#333333" stroke-width="0.8" fill="none"/>
<path d="M43.60 268.40V270.82M41.60 268.40h4M41.60 270.82h4" stroke="#333333" stroke-width="0.8" fill="none"/>
<path d="M48.04 237.81V242.65M46.04 237.81h4M46.04 242.65h4" stroke="#333333" stroke-width="0.8" fill="none"/>
<path d="M56.91 219.55V229.23M54.91 219.55h4M54.91 229.23h4" stroke="#333333" stroke-width="0.8" fill="none"/>
<path d="M74.66 213.51V224.39M72.66 213.51h4M72.66 224.39h4" stroke="#333333" stroke-width="0.8" fill="none"/>
<path d="M105.71 211.33V219.80M103.71 211.33h4M103.71 219.80h4" stroke="#333333" stroke-width="0.8" fill="none"/>
<path d="M136.77 211.09V215.93M134.77 211.09h4M134.77 215.93h4" stroke="#333333" stroke-width="0.8" fill="none"/>
<path d="M167.83 211.09V215.93M165.83 211.09h4M165.83 215.93h4" stroke="#333333" stroke-width="0.8" fill="none"/>
<path d="M41.60 313.79l4 4M41.60 317.79l4 -4" stroke="#000" stroke-width="1.2"/>
<path d="M46.04 312.82l4 4M46.04 316.82l4 -4" stroke="#000" stroke-width="1.2"/>
<path d="M54.91 308.23l4 4M54.91 312.23l4 -4" stroke="#000" stroke-width="1.2"/>
<path d="M72.66 302.18l4 4M72.66 306.18l4 -4" stroke="#000" stroke-width="1.2"/>
<path d="M103.71 296.14l4 4M103.71 300.14l4 -4" stroke="#000" stroke-width="1.2"/>
<path d="M134.77 292.51l4 4M134.77 296.51l4 -4" stroke="#000" stroke-width="1.2"/>
<path d="M165.83 290.09l4 4M165.83 294.09l4 -4" stroke="#000" stroke-width="1.2"/>
<circle cx="43.60" cy="310.23" r="2.4" fill="#7030A0"/>
<circle cx="48.04" cy="308.66" r="2.4" fill="#7030A0"/>
<circle cx="56.91" cy="306.72" r="2.4" fill="#7030A0"/>
<circle cx="74.66" cy="303.70" r="2.4" fill="#7030A0"/>
<circle cx="105.71" cy="296.45" r="2.4" fill="#7030A0"/>
<circle cx="136.77" cy="290.88" r="2.4" fill="#7030A0"/>
<circle cx="167.83" cy="290.28" r="2.4" fill="#7030A0"/>
<circle cx="43.60" cy="311.80" r="2.4" fill="#5B9BD5"/>
<circle cx="48.04" cy="311.32" r="2.4" fill="#5B9BD5"/>
<circle cx="56.91" cy="309.75" r="2.4" fill="#5B9BD5"/>
<circle cx="74.66" cy="306.72" r="2.4" fill="#5B9BD5"/>
<circle cx="105.71" cy="299.35" r="2.4" fill="#5B9BD5"/>
<circle cx="136.77" cy="292.46" r="2.4" fill="#5B9BD5"/>
<circle cx="167.83" cy="291.85" r="2.4" fill="#5B9BD5"/>
<circle cx="43.60" cy="294.63" r="2.4" fill="#70AD47"/>
<circle cx="48.04" cy="288.47" r="2.4" fill="#70AD47"/>
<circle cx="56.91" cy="281.21" r="2.4" fill="#70AD47"/>
<circle cx="74.66" cy="268.64" r="2.4" fill="#70AD47"/>
<circle cx="105.71" cy="256.79" r="2.4" fill="#70AD47"/>
<circle cx="136.77" cy="250.14" r="2.4" fill="#70AD47"/>
<circle cx="167.83" cy="248.93" r="2.4" fill="#70AD47"/>
<circle cx="43.60" cy="279.04" r="2.4" fill="#FFC000"/>
<circle cx="48.04" cy="267.91" r="2.4" fill="#FFC000"/>
<circle cx="56.91" cy="248.57" r="2.4" fill="#FFC000"/>
<circle cx="74.66" cy="234.91" r="2.4" fill="#FFC000"/>
<circle cx="105.71" cy="227.78" r="2.4" fill="#FFC000"/>
<circle cx="136.77" cy="223.66" r="2.4" fill="#FFC000"/>
<circle cx="167.83" cy="222.94" r="2.4" fill="#FFC000"/>
<circle cx="43.60" cy="269.61" r="2.4" fill="#C00000"/>
<circle cx="48.04" cy="240.23" r="2.4" fill="#C00000"/>
<circle cx="56.91" cy="224.39" r="2.4" fill="#C00000"/>
<circle cx="74.66" cy="218.95" r="2.4" fill="#C00000"/>
<circle cx="105.71" cy="215.56" r="2.4" fill="#C00000"/>
<circle cx="136.77" cy="213.51" r="2.4" fill="#C00000"/>
<circle cx="167.83" cy="213.51" r="2.4" fill="#C00000"/>
<text class="lt" x="213.5" y="197.3">L</text>
<text class="ti" transform="translate(312.5,197.90) scale(1,1.18)">Mannitol</text>
<text class="yl" transform="translate(227.39999999999998,272.55) rotate(-90) scale(1,0.88)">620nm Absorbance</text>
<text class="tk" x="244.3" y="336.50" text-anchor="end">0.0</text>
<text class="tk" x="244.3" y="312.28" text-anchor="end">0.2</text>
<text class="tk" x="244.3" y="288.06" text-anchor="end">0.4</text>
<text class="tk" x="244.3" y="263.84" text-anchor="end">0.6</text>
<text class="tk" x="244.3" y="239.62" text-anchor="end">0.8</text>
<text class="tk" x="244.3" y="215.40" text-anchor="end">1.0</text>
<text class="tk" x="251.50" y="346.60" text-anchor="middle">0</text>
<text class="tk" x="295.83" y="346.60" text-anchor="middle">10</text>
<text class="tk" x="340.17" y="346.60" text-anchor="middle">20</text>
<text class="tk" x="384.50" y="346.60" text-anchor="middle">30</text>
<text class="yl" x="318.00" y="358.60">Days</text>
<path d="M251.50 212.00V333.10H384.50" fill="none" stroke="#D9D9D9" stroke-width="1"/>
<polyline points="251.5,314.3 253.7,313.2 255.9,312.1 258.1,311.1 260.4,310.2 262.6,309.2 264.8,308.4 267.0,307.5 269.2,306.7 271.4,306.0 273.7,305.3 275.9,304.6 278.1,303.9 280.3,303.3 282.5,302.7 284.8,302.2 287.0,301.7 289.2,301.2 291.4,300.7 293.6,300.2 295.8,299.8 298.1,299.4 300.3,299.0 302.5,298.6 304.7,298.3 306.9,297.9 309.1,297.6 311.4,297.3 313.6,297.0 315.8,296.7 318.0,296.5 320.2,296.2 322.4,296.0 324.6,295.7 326.9,295.5 329.1,295.3 331.3,295.1 333.5,294.9 335.7,294.8 337.9,294.6 340.2,294.4 342.4,294.3 344.6,294.1 346.8,294.0 349.0,293.9 351.2,293.7 353.5,293.6 355.7,293.5 357.9,293.4 360.1,293.3 362.3,293.2 364.6,293.1 366.8,293.0 369.0,292.9 371.2,292.9 373.4,292.8 375.6,292.7 377.9,292.7 380.1,292.6 382.3,292.5 384.5,292.5" fill="none" stroke="#000000" stroke-width="1.35"/>
<polyline points="251.5,316.8 253.7,316.0 255.9,315.2 258.1,314.4 260.4,313.7 262.6,313.0 264.8,312.4 267.0,311.7 269.2,311.1 271.4,310.6 273.7,310.0 275.9,309.4 278.1,308.9 280.3,308.4 282.5,307.9 284.8,307.5 287.0,307.0 289.2,306.6 291.4,306.2 293.6,305.8 295.8,305.4 298.1,305.0 300.3,304.7 302.5,304.3 304.7,304.0 306.9,303.7 309.1,303.4 311.4,303.1 313.6,302.8 315.8,302.5 318.0,302.2 320.2,302.0 322.4,301.7 324.6,301.5 326.9,301.3 329.1,301.1 331.3,300.9 333.5,300.7 335.7,300.5 337.9,300.3 340.2,300.1 342.4,299.9 344.6,299.8 346.8,299.6 349.0,299.5 351.2,299.3 353.5,299.2 355.7,299.0 357.9,298.9 360.1,298.8 362.3,298.7 364.6,298.5 366.8,298.4 369.0,298.3 371.2,298.2 373.4,298.1 375.6,298.0 377.9,297.9 380.1,297.8 382.3,297.8 384.5,297.7" fill="none" stroke="#7030A0" stroke-width="1.35" stroke-dasharray="0.1 2.6" stroke-linecap="round"/>
<path d="M251.50 314.94V317.36M249.50 314.94h4M249.50 317.36h4" stroke="#333333" stroke-width="0.8" fill="none"/>
<path d="M255.93 312.51V314.94M253.93 312.51h4M253.93 314.94h4" stroke="#333333" stroke-width="0.8" fill="none"/>
<path d="M264.80 307.67V310.09M262.80 307.67h4M262.80 310.09h4" stroke="#333333" stroke-width="0.8" fill="none"/>
<path d="M282.53 301.01V303.43M280.53 301.01h4M280.53 303.43h4" stroke="#333333" stroke-width="0.8" fill="none"/>
<path d="M313.57 293.74V299.80M311.57 293.74h4M311.57 299.80h4" stroke="#333333" stroke-width="0.8" fill="none"/>
<path d="M344.60 288.90V297.38M342.60 288.90h4M342.60 297.38h4" stroke="#333333" stroke-width="0.8" fill="none"/>
<path d="M375.63 290.11V296.16M373.63 290.11h4M373.63 296.16h4" stroke="#333333" stroke-width="0.8" fill="none"/>
<path d="M251.50 315.18V317.60M249.50 315.18h4M249.50 317.60h4" stroke="#333333" stroke-width="0.8" fill="none"/>
<path d="M255.93 312.51V314.94M253.93 312.51h4M253.93 314.94h4" stroke="#333333" stroke-width="0.8" fill="none"/>
<path d="M264.80 309.85V312.27M262.80 309.85h4M262.80 312.27h4" stroke="#333333" stroke-width="0.8" fill="none"/>
<path d="M282.53 305.49V307.91M280.53 305.49h4M280.53 307.91h4" stroke="#333333" stroke-width="0.8" fill="none"/>
<path d="M313.57 299.80V304.64M311.57 299.80h4M311.57 304.64h4" stroke="#333333" stroke-width="0.8" fill="none"/>
<path d="M344.60 294.83V300.89M342.60 294.83h4M342.60 300.89h4" stroke="#333333" stroke-width="0.8" fill="none"/>
<path d="M375.63 292.17V298.22M373.63 292.17h4M373.63 298.22h4" stroke="#333333" stroke-width="0.8" fill="none"/>
<path d="M249.50 314.15l4 4M249.50 318.15l4 -4" stroke="#000" stroke-width="1.2"/>
<path d="M253.93 311.72l4 4M253.93 315.72l4 -4" stroke="#000" stroke-width="1.2"/>
<path d="M262.80 306.88l4 4M262.80 310.88l4 -4" stroke="#000" stroke-width="1.2"/>
<path d="M280.53 300.22l4 4M280.53 304.22l4 -4" stroke="#000" stroke-width="1.2"/>
<path d="M311.57 294.77l4 4M311.57 298.77l4 -4" stroke="#000" stroke-width="1.2"/>
<path d="M342.60 291.14l4 4M342.60 295.14l4 -4" stroke="#000" stroke-width="1.2"/>
<path d="M373.63 291.14l4 4M373.63 295.14l4 -4" stroke="#000" stroke-width="1.2"/>
<circle cx="251.50" cy="316.39" r="2.4" fill="#7030A0"/>
<circle cx="255.93" cy="313.72" r="2.4" fill="#7030A0"/>
<circle cx="264.80" cy="311.06" r="2.4" fill="#7030A0"/>
<circle cx="282.53" cy="306.70" r="2.4" fill="#7030A0"/>
<circle cx="313.57" cy="302.22" r="2.4" fill="#7030A0"/>
<circle cx="344.60" cy="297.86" r="2.4" fill="#7030A0"/>
<circle cx="375.63" cy="295.20" r="2.4" fill="#7030A0"/>
<text class="lt" x="6.1" y="381.5">M</text>
<text class="ti" transform="translate(102.5,383.40) scale(1,1.18)">Maltose</text>
<text class="yl" transform="translate(21.2,457.5) rotate(-90) scale(1,0.88)">620nm Absorbance</text>
<text class="tk" x="37.3" y="521.40" text-anchor="end">0.0</text>
<text class="tk" x="37.3" y="497.20" text-anchor="end">0.2</text>
<text class="tk" x="37.3" y="473.00" text-anchor="end">0.4</text>
<text class="tk" x="37.3" y="448.80" text-anchor="end">0.6</text>
<text class="tk" x="37.3" y="424.60" text-anchor="end">0.8</text>
<text class="tk" x="37.3" y="400.40" text-anchor="end">1.0</text>
<text class="tk" x="44.50" y="531.50" text-anchor="middle">0</text>
<text class="tk" x="88.83" y="531.50" text-anchor="middle">10</text>
<text class="tk" x="133.17" y="531.50" text-anchor="middle">20</text>
<text class="tk" x="177.50" y="531.50" text-anchor="middle">30</text>
<text class="yl" x="111.00" y="543.50">Days</text>
<path d="M44.50 397.00V518.00H177.50" fill="none" stroke="#D9D9D9" stroke-width="1"/>
<polyline points="44.5,499.6 46.7,498.5 48.9,497.4 51.1,496.4 53.4,495.4 55.6,494.5 57.8,493.6 60.0,492.8 62.2,492.0 64.5,491.2 66.7,490.5 68.9,489.8 71.1,489.2 73.3,488.6 75.5,488.0 77.8,487.4 80.0,486.9 82.2,486.4 84.4,485.9 86.6,485.4 88.8,485.0 91.0,484.6 93.3,484.2 95.5,483.8 97.7,483.5 99.9,483.1 102.1,482.8 104.3,482.5 106.6,482.2 108.8,481.9 111.0,481.7 113.2,481.4 115.4,481.2 117.7,480.9 119.9,480.7 122.1,480.5 124.3,480.3 126.5,480.1 128.7,480.0 130.9,479.8 133.2,479.6 135.4,479.5 137.6,479.3 139.8,479.2 142.0,479.1 144.2,478.9 146.5,478.8 148.7,478.7 150.9,478.6 153.1,478.5 155.3,478.4 157.6,478.3 159.8,478.2 162.0,478.1 164.2,478.1 166.4,478.0 168.6,477.9 170.8,477.8 173.1,477.8 175.3,477.7 177.5,477.6" fill="none" stroke="#000000" stroke-width="1.35"/>
<polyline points="44.5,503.5 46.7,503.2 48.9,503.0 51.1,502.8 53.4,502.6 55.6,502.4 57.8,502.2 60.0,502.0 62.2,501.8 64.5,501.6 66.7,501.4 68.9,501.3 71.1,501.1 73.3,500.9 75.5,500.8 77.8,500.6 80.0,500.5 82.2,500.3 84.4,500.2 86.6,500.1 88.8,499.9 91.0,499.8 93.3,499.7 95.5,499.6 97.7,499.5 99.9,499.4 102.1,499.3 104.3,499.2 106.6,499.1 108.8,499.0 111.0,498.9 113.2,498.8 115.4,498.7 117.7,498.6 119.9,498.6 122.1,498.5 124.3,498.4 126.5,498.3 128.7,498.3 130.9,498.2 133.2,498.1 135.4,498.1 137.6,498.0 139.8,498.0 142.0,497.9 144.2,497.8 146.5,497.8 148.7,497.7 150.9,497.7 153.1,497.6 155.3,497.6 157.6,497.5 159.8,497.5 162.0,497.5 164.2,497.4 166.4,497.4 168.6,497.3 170.8,497.3 173.1,497.3 175.3,497.2 177.5,497.2" fill="none" stroke="#5B9BD5" stroke-width="1.35" stroke-dasharray="4 2.5"/>
<polyline points="44.5,505.5 46.7,505.2 48.9,504.9 51.1,504.6 53.4,504.3 55.6,504.0 57.8,503.7 60.0,503.5 62.2,503.2 64.5,503.0 66.7,502.8 68.9,502.6 71.1,502.3 73.3,502.1 75.5,502.0 77.8,501.8 80.0,501.6 82.2,501.4 84.4,501.3 86.6,501.1 88.8,501.0 91.0,500.8 93.3,500.7 95.5,500.5 97.7,500.4 99.9,500.3 102.1,500.2 104.3,500.1 106.6,500.0 108.8,499.9 111.0,499.8 113.2,499.7 115.4,499.6 117.7,499.5 119.9,499.4 122.1,499.3 124.3,499.2 126.5,499.2 128.7,499.1 130.9,499.0 133.2,499.0 135.4,498.9 137.6,498.8 139.8,498.8 142.0,498.7 144.2,498.7 146.5,498.6 148.7,498.6 150.9,498.5 153.1,498.5 155.3,498.4 157.6,498.4 159.8,498.4 162.0,498.3 164.2,498.3 166.4,498.2 168.6,498.2 170.8,498.2 173.1,498.2 175.3,498.1 177.5,498.1" fill="none" stroke="#70AD47" stroke-width="1.35" stroke-dasharray="5.5 3.5"/>
<polyline points="44.5,502.9 46.7,502.4 48.9,501.9 51.1,501.5 53.4,501.0 55.6,500.6 57.8,500.3 60.0,499.9 62.2,499.5 64.5,499.2 66.7,498.9 68.9,498.6 71.1,498.3 73.3,498.0 75.5,497.8 77.8,497.5 80.0,497.3 82.2,497.1 84.4,496.9 86.6,496.7 88.8,496.5 91.0,496.3 93.3,496.1 95.5,496.0 97.7,495.8 99.9,495.7 102.1,495.5 104.3,495.4 106.6,495.3 108.8,495.1 111.0,495.0 113.2,494.9 115.4,494.8 117.7,494.7 119.9,494.6 122.1,494.5 124.3,494.4 126.5,494.4 128.7,494.3 130.9,494.2 133.2,494.1 135.4,494.1 137.6,494.0 139.8,493.9 142.0,493.9 144.2,493.8 146.5,493.8 148.7,493.7 150.9,493.7 153.1,493.6 155.3,493.6 157.6,493.6 159.8,493.5 162.0,493.5 164.2,493.5 166.4,493.4 168.6,493.4 170.8,493.4 173.1,493.3 175.3,493.3 177.5,493.3" fill="none" stroke="#7030A0" stroke-width="1.35" stroke-dasharray="0.1 2.6" stroke-linecap="round"/>
<polyline points="44.5,492.0 46.7,491.3 48.9,490.6 51.1,489.9 53.4,489.2 55.6,488.6 57.8,487.9 60.0,487.3 62.2,486.7 64.5,486.1 66.7,485.5 68.9,485.0 71.1,484.4 73.3,483.9 75.5,483.4 77.8,482.9 80.0,482.4 82.2,481.9 84.4,481.4 86.6,481.0 88.8,480.5 91.0,480.1 93.3,479.6 95.5,479.2 97.7,478.8 99.9,478.4 102.1,478.0 104.3,477.7 106.6,477.3 108.8,476.9 111.0,476.6 113.2,476.3 115.4,475.9 117.7,475.6 119.9,475.3 122.1,475.0 124.3,474.7 126.5,474.4 128.7,474.1 130.9,473.8 133.2,473.6 135.4,473.3 137.6,473.0 139.8,472.8 142.0,472.5 144.2,472.3 146.5,472.1 148.7,471.8 150.9,471.6 153.1,471.4 155.3,471.2 157.6,471.0 159.8,470.8 162.0,470.6 164.2,470.4 166.4,470.2 168.6,470.0 170.8,469.8 173.1,469.7 175.3,469.5 177.5,469.3" fill="none" stroke="#FFC000" stroke-width="1.35" stroke-dasharray="7 3 1.5 3"/>
<polyline points="44.5,473.2 46.7,472.0 48.9,470.9 51.1,469.7 53.4,468.7 55.6,467.7 57.8,466.7 60.0,465.7 62.2,464.8 64.5,464.0 66.7,463.1 68.9,462.3 71.1,461.6 73.3,460.8 75.5,460.1 77.8,459.5 80.0,458.8 82.2,458.2 84.4,457.6 86.6,457.0 88.8,456.5 91.0,455.9 93.3,455.4 95.5,455.0 97.7,454.5 99.9,454.0 102.1,453.6 104.3,453.2 106.6,452.8 108.8,452.4 111.0,452.1 113.2,451.7 115.4,451.4 117.7,451.1 119.9,450.8 122.1,450.5 124.3,450.2 126.5,449.9 128.7,449.7 130.9,449.4 133.2,449.2 135.4,449.0 137.6,448.7 139.8,448.5 142.0,448.3 144.2,448.1 146.5,447.9 148.7,447.8 150.9,447.6 153.1,447.4 155.3,447.3 157.6,447.1 159.8,447.0 162.0,446.8 164.2,446.7 166.4,446.6 168.6,446.5 170.8,446.3 173.1,446.2 175.3,446.1 177.5,446.0" fill="none" stroke="#C00000" stroke-width="1.35" stroke-dasharray="9 5"/>
<path d="M44.50 498.64V501.06M42.50 498.64h4M42.50 501.06h4" stroke="#333333" stroke-width="0.8" fill="none"/>
<path d="M48.93 495.01V499.85M46.93 495.01h4M46.93 499.85h4" stroke="#333333" stroke-width="0.8" fill="none"/>
<path d="M57.80 491.38V496.22M55.80 491.38h4M55.80 496.22h4" stroke="#333333" stroke-width="0.8" fill="none"/>
<path d="M75.53 485.81V490.65M73.53 485.81h4M73.53 490.65h4" stroke="#333333" stroke-width="0.8" fill="none"/>
<path d="M106.57 479.28V484.12M104.57 479.28h4M104.57 484.12h4" stroke="#333333" stroke-width="0.8" fill="none"/>
<path d="M137.60 476.62V481.46M135.60 476.62h4M135.60 481.46h4" stroke="#333333" stroke-width="0.8" fill="none"/>
<path d="M168.63 474.92V479.76M166.63 474.92h4M166.63 479.76h4" stroke="#333333" stroke-width="0.8" fill="none"/>
<path d="M44.50 502.27V504.69M42.50 502.27h4M42.50 504.69h4" stroke="#333333" stroke-width="0.8" fill="none"/>
<path d="M48.93 501.67V504.08M46.93 501.67h4M46.93 504.08h4" stroke="#333333" stroke-width="0.8" fill="none"/>
<path d="M57.80 501.06V503.48M55.80 501.06h4M55.80 503.48h4" stroke="#333333" stroke-width="0.8" fill="none"/>
<path d="M75.53 499.85V502.27M73.53 499.85h4M73.53 502.27h4" stroke="#333333" stroke-width="0.8" fill="none"/>
<path d="M106.57 498.64V501.06M104.57 498.64h4M104.57 501.06h4" stroke="#333333" stroke-width="0.8" fill="none"/>
<path d="M137.60 498.04V500.45M135.60 498.04h4M135.60 500.45h4" stroke="#333333" stroke-width="0.8" fill="none"/>
<path d="M168.63 496.22V498.64M166.63 496.22h4M166.63 498.64h4" stroke="#333333" stroke-width="0.8" fill="none"/>
<path d="M44.50 503.72V506.14M42.50 503.72h4M42.50 506.14h4" stroke="#333333" stroke-width="0.8" fill="none"/>
<path d="M48.93 503.00V505.42M46.93 503.00h4M46.93 505.42h4" stroke="#333333" stroke-width="0.8" fill="none"/>
<path d="M57.80 502.63V505.05M55.80 502.63h4M55.80 505.05h4" stroke="#333333" stroke-width="0.8" fill="none"/>
<path d="M75.53 501.18V503.60M73.53 501.18h4M73.53 503.60h4" stroke="#333333" stroke-width="0.8" fill="none"/>
<path d="M106.57 496.34V503.60M104.57 496.34h4M104.57 503.60h4" stroke="#333333" stroke-width="0.8" fill="none"/>
<path d="M137.60 495.25V502.51M135.60 495.25h4M135.60 502.51h4" stroke="#333333" stroke-width="0.8" fill="none"/>
<path d="M168.63 491.99V499.25M166.63 491.99h4M166.63 499.25h4" stroke="#333333" stroke-width="0.8" fill="none"/>
<path d="M44.50 501.06V503.48M42.50 501.06h4M42.50 503.48h4" stroke="#333333" stroke-width="0.8" fill="none"/>
<path d="M48.93 499.85V502.27M46.93 499.85h4M46.93 502.27h4" stroke="#333333" stroke-width="0.8" fill="none"/>
<path d="M57.80 498.64V501.06M55.80 498.64h4M55.80 501.06h4" stroke="#333333" stroke-width="0.8" fill="none"/>
<path d="M75.53 496.10V498.52M73.53 496.10h4M73.53 498.52h4" stroke="#333333" stroke-width="0.8" fill="none"/>
<path d="M106.57 492.95V495.37M104.57 492.95h4M104.57 495.37h4" stroke="#333333" stroke-width="0.8" fill="none"/>
<path d="M137.60 491.86V494.28M135.60 491.86h4M135.60 494.28h4" stroke="#333333" stroke-width="0.8" fill="none"/>
<path d="M168.63 490.77V493.19M166.63 490.77h4M166.63 493.19h4" stroke="#333333" stroke-width="0.8" fill="none"/>
<path d="M44.50 490.53V492.95M42.50 490.53h4M42.50 492.95h4" stroke="#333333" stroke-width="0.8" fill="none"/>
<path d="M48.93 486.66V493.92M46.93 486.66h4M46.93 493.92h4" stroke="#333333" stroke-width="0.8" fill="none"/>
<path d="M57.80 484.12V491.38M55.80 484.12h4M55.80 491.38h4" stroke="#333333" stroke-width="0.8" fill="none"/>
<path d="M75.53 479.52V486.78M73.53 479.52h4M73.53 486.78h4" stroke="#333333" stroke-width="0.8" fill="none"/>
<path d="M106.57 472.02V479.28M104.57 472.02h4M104.57 479.28h4" stroke="#333333" stroke-width="0.8" fill="none"/>
<path d="M137.60 466.09V475.77M135.60 466.09h4M135.60 475.77h4" stroke="#333333" stroke-width="0.8" fill="none"/>
<path d="M168.63 460.04V469.72M166.63 460.04h4M166.63 469.72h4" stroke="#333333" stroke-width="0.8" fill="none"/>
<path d="M44.50 471.29V473.71M42.50 471.29h4M42.50 473.71h4" stroke="#333333" stroke-width="0.8" fill="none"/>
<path d="M48.93 469.84V472.26M46.93 469.84h4M46.93 472.26h4" stroke="#333333" stroke-width="0.8" fill="none"/>
<path d="M57.80 466.82V471.66M55.80 466.82h4M55.80 471.66h4" stroke="#333333" stroke-width="0.8" fill="none"/>
<path d="M75.53 457.14V461.98M73.53 457.14h4M73.53 461.98h4" stroke="#333333" stroke-width="0.8" fill="none"/>
<path d="M106.57 449.03V456.29M104.57 449.03h4M104.57 456.29h4" stroke="#333333" stroke-width="0.8" fill="none"/>
<path d="M137.60 442.50V449.76M135.60 442.50h4M135.60 449.76h4" stroke="#333333" stroke-width="0.8" fill="none"/>
<path d="M168.63 441.41V447.46M166.63 441.41h4M166.63 447.46h4" stroke="#333333" stroke-width="0.8" fill="none"/>
<path d="M42.50 497.85l4 4M42.50 501.85l4 -4" stroke="#000" stroke-width="1.2"/>
<path d="M46.93 495.43l4 4M46.93 499.43l4 -4" stroke="#000" stroke-width="1.2"/>
<path d="M55.80 491.80l4 4M55.80 495.80l4 -4" stroke="#000" stroke-width="1.2"/>
<path d="M73.53 486.23l4 4M73.53 490.23l4 -4" stroke="#000" stroke-width="1.2"/>
<path d="M104.57 479.70l4 4M104.57 483.70l4 -4" stroke="#000" stroke-width="1.2"/>
<path d="M135.60 477.04l4 4M135.60 481.04l4 -4" stroke="#000" stroke-width="1.2"/>
<path d="M166.63 475.34l4 4M166.63 479.34l4 -4" stroke="#000" stroke-width="1.2"/>
<circle cx="44.50" cy="503.48" r="2.4" fill="#5B9BD5"/>
<circle cx="48.93" cy="502.88" r="2.4" fill="#5B9BD5"/>
<circle cx="57.80" cy="502.27" r="2.4" fill="#5B9BD5"/>
<circle cx="75.53" cy="501.06" r="2.4" fill="#5B9BD5"/>
<circle cx="106.57" cy="499.85" r="2.4" fill="#5B9BD5"/>
<circle cx="137.60" cy="499.25" r="2.4" fill="#5B9BD5"/>
<circle cx="168.63" cy="497.43" r="2.4" fill="#5B9BD5"/>
<circle cx="44.50" cy="504.93" r="2.4" fill="#70AD47"/>
<circle cx="48.93" cy="504.21" r="2.4" fill="#70AD47"/>
<circle cx="57.80" cy="503.84" r="2.4" fill="#70AD47"/>
<circle cx="75.53" cy="502.39" r="2.4" fill="#70AD47"/>
<circle cx="106.57" cy="499.97" r="2.4" fill="#70AD47"/>
<circle cx="137.60" cy="498.88" r="2.4" fill="#70AD47"/>
<circle cx="168.63" cy="495.62" r="2.4" fill="#70AD47"/>
<circle cx="44.50" cy="502.27" r="2.4" fill="#7030A0"/>
<circle cx="48.93" cy="501.06" r="2.4" fill="#7030A0"/>
<circle cx="57.80" cy="499.85" r="2.4" fill="#7030A0"/>
<circle cx="75.53" cy="497.31" r="2.4" fill="#7030A0"/>
<circle cx="106.57" cy="494.16" r="2.4" fill="#7030A0"/>
<circle cx="137.60" cy="493.07" r="2.4" fill="#7030A0"/>
<circle cx="168.63" cy="491.99" r="2.4" fill="#7030A0"/>
<circle cx="44.50" cy="491.74" r="2.4" fill="#FFC000"/>
<circle cx="48.93" cy="490.29" r="2.4" fill="#FFC000"/>
<circle cx="57.80" cy="487.75" r="2.4" fill="#FFC000"/>
<circle cx="75.53" cy="483.15" r="2.4" fill="#FFC000"/>
<circle cx="106.57" cy="475.65" r="2.4" fill="#FFC000"/>
<circle cx="137.60" cy="470.93" r="2.4" fill="#FFC000"/>
<circle cx="168.63" cy="464.88" r="2.4" fill="#FFC000"/>
<circle cx="44.50" cy="472.50" r="2.4" fill="#C00000"/>
<circle cx="48.93" cy="471.05" r="2.4" fill="#C00000"/>
<circle cx="57.80" cy="469.24" r="2.4" fill="#C00000"/>
<circle cx="75.53" cy="459.56" r="2.4" fill="#C00000"/>
<circle cx="106.57" cy="452.66" r="2.4" fill="#C00000"/>
<circle cx="137.60" cy="446.13" r="2.4" fill="#C00000"/>
<circle cx="168.63" cy="444.43" r="2.4" fill="#C00000"/>
<text class="lt" x="213.3" y="380.8">N</text>
<text class="ti" transform="translate(312.6,383.00) scale(1,1.18)">Trehalose</text>
<text class="yl" transform="translate(227.39999999999998,457.15000000000003) rotate(-90) scale(1,0.88)">620nm Absorbance</text>
<text class="tk" x="243.3" y="521.10" text-anchor="end">0.0</text>
<text class="tk" x="243.3" y="496.88" text-anchor="end">0.2</text>
<text class="tk" x="243.3" y="472.66" text-anchor="end">0.4</text>
<text class="tk" x="243.3" y="448.44" text-anchor="end">0.6</text>
<text class="tk" x="243.3" y="424.22" text-anchor="end">0.8</text>
<text class="tk" x="243.3" y="400.00" text-anchor="end">1.0</text>
<text class="tk" x="250.50" y="531.20" text-anchor="middle">0</text>
<text class="tk" x="295.00" y="531.20" text-anchor="middle">10</text>
<text class="tk" x="339.50" y="531.20" text-anchor="middle">20</text>
<text class="tk" x="384.00" y="531.20" text-anchor="middle">30</text>
<text class="yl" x="317.25" y="543.20">Days</text>
<path d="M250.50 396.60V517.70H384.00" fill="none" stroke="#D9D9D9" stroke-width="1"/>
<polyline points="250.5,498.9 252.7,498.0 254.9,497.1 257.2,496.2 259.4,495.4 261.6,494.6 263.9,493.8 266.1,493.1 268.3,492.4 270.5,491.7 272.8,491.1 275.0,490.5 277.2,489.9 279.4,489.3 281.6,488.8 283.9,488.2 286.1,487.7 288.3,487.3 290.6,486.8 292.8,486.3 295.0,485.9 297.2,485.5 299.4,485.1 301.7,484.7 303.9,484.4 306.1,484.0 308.4,483.7 310.6,483.4 312.8,483.1 315.0,482.8 317.2,482.5 319.5,482.2 321.7,482.0 323.9,481.7 326.1,481.5 328.4,481.3 330.6,481.1 332.8,480.8 335.1,480.6 337.3,480.5 339.5,480.3 341.7,480.1 343.9,479.9 346.2,479.8 348.4,479.6 350.6,479.4 352.9,479.3 355.1,479.2 357.3,479.0 359.5,478.9 361.8,478.8 364.0,478.7 366.2,478.6 368.4,478.4 370.6,478.3 372.9,478.2 375.1,478.2 377.3,478.1 379.6,478.0 381.8,477.9 384.0,477.8" fill="none" stroke="#000000" stroke-width="1.35"/>
<polyline points="250.5,492.0 252.7,491.5 254.9,490.9 257.2,490.4 259.4,489.9 261.6,489.4 263.9,488.9 266.1,488.5 268.3,488.0 270.5,487.6 272.8,487.2 275.0,486.9 277.2,486.5 279.4,486.2 281.6,485.8 283.9,485.5 286.1,485.2 288.3,484.9 290.6,484.6 292.8,484.3 295.0,484.1 297.2,483.8 299.4,483.6 301.7,483.4 303.9,483.1 306.1,482.9 308.4,482.7 310.6,482.5 312.8,482.4 315.0,482.2 317.2,482.0 319.5,481.8 321.7,481.7 323.9,481.5 326.1,481.4 328.4,481.2 330.6,481.1 332.8,481.0 335.1,480.9 337.3,480.7 339.5,480.6 341.7,480.5 343.9,480.4 346.2,480.3 348.4,480.2 350.6,480.1 352.9,480.0 355.1,480.0 357.3,479.9 359.5,479.8 361.8,479.7 364.0,479.7 366.2,479.6 368.4,479.5 370.6,479.5 372.9,479.4 375.1,479.3 377.3,479.3 379.6,479.2 381.8,479.2 384.0,479.1" fill="none" stroke="#7030A0" stroke-width="1.35" stroke-dasharray="0.1 2.6" stroke-linecap="round"/>
<polyline points="250.5,484.8 252.7,484.2 254.9,483.6 257.2,483.1 259.4,482.5 261.6,482.0 263.9,481.5 266.1,481.0 268.3,480.6 270.5,480.1 272.8,479.7 275.0,479.3 277.2,478.9 279.4,478.5 281.6,478.1 283.9,477.7 286.1,477.4 288.3,477.0 290.6,476.7 292.8,476.4 295.0,476.0 297.2,475.7 299.4,475.4 301.7,475.2 303.9,474.9 306.1,474.6 308.4,474.4 310.6,474.1 312.8,473.9 315.0,473.7 317.2,473.4 319.5,473.2 321.7,473.0 323.9,472.8 326.1,472.6 328.4,472.4 330.6,472.2 332.8,472.1 335.1,471.9 337.3,471.7 339.5,471.6 341.7,471.4 343.9,471.3 346.2,471.1 348.4,471.0 350.6,470.8 352.9,470.7 355.1,470.6 357.3,470.5 359.5,470.3 361.8,470.2 364.0,470.1 366.2,470.0 368.4,469.9 370.6,469.8 372.9,469.7 375.1,469.6 377.3,469.5 379.6,469.4 381.8,469.3 384.0,469.3" fill="none" stroke="#5B9BD5" stroke-width="1.35" stroke-dasharray="4 2.5"/>
<polyline points="250.5,475.3 252.7,474.6 254.9,474.0 257.2,473.3 259.4,472.6 261.6,472.0 263.9,471.4 266.1,470.8 268.3,470.2 270.5,469.6 272.8,469.0 275.0,468.5 277.2,467.9 279.4,467.4 281.6,466.8 283.9,466.3 286.1,465.8 288.3,465.3 290.6,464.8 292.8,464.3 295.0,463.9 297.2,463.4 299.4,462.9 301.7,462.5 303.9,462.1 306.1,461.6 308.4,461.2 310.6,460.8 312.8,460.4 315.0,460.0 317.2,459.6 319.5,459.3 321.7,458.9 323.9,458.5 326.1,458.2 328.4,457.8 330.6,457.5 332.8,457.1 335.1,456.8 337.3,456.5 339.5,456.2 341.7,455.9 343.9,455.6 346.2,455.3 348.4,455.0 350.6,454.7 352.9,454.4 355.1,454.1 357.3,453.9 359.5,453.6 361.8,453.3 364.0,453.1 366.2,452.8 368.4,452.6 370.6,452.4 372.9,452.1 375.1,451.9 377.3,451.7 379.6,451.5 381.8,451.2 384.0,451.0" fill="none" stroke="#70AD47" stroke-width="1.35" stroke-dasharray="5.5 3.5"/>
<polyline points="250.5,469.3 252.7,468.2 254.9,467.2 257.2,466.2 259.4,465.2 261.6,464.3 263.9,463.4 266.1,462.5 268.3,461.7 270.5,460.8 272.8,460.1 275.0,459.3 277.2,458.6 279.4,457.8 281.6,457.2 283.9,456.5 286.1,455.8 288.3,455.2 290.6,454.6 292.8,454.0 295.0,453.5 297.2,452.9 299.4,452.4 301.7,451.9 303.9,451.4 306.1,450.9 308.4,450.4 310.6,450.0 312.8,449.6 315.0,449.1 317.2,448.7 319.5,448.4 321.7,448.0 323.9,447.6 326.1,447.3 328.4,446.9 330.6,446.6 332.8,446.3 335.1,445.9 337.3,445.7 339.5,445.4 341.7,445.1 343.9,444.8 346.2,444.5 348.4,444.3 350.6,444.0 352.9,443.8 355.1,443.6 357.3,443.4 359.5,443.1 361.8,442.9 364.0,442.7 366.2,442.5 368.4,442.4 370.6,442.2 372.9,442.0 375.1,441.8 377.3,441.7 379.6,441.5 381.8,441.3 384.0,441.2" fill="none" stroke="#FFC000" stroke-width="1.35" stroke-dasharray="7 3 1.5 3"/>
<path d="M250.50 497.72V500.14M248.50 497.72h4M248.50 500.14h4" stroke="#333333" stroke-width="0.8" fill="none"/>
<path d="M254.95 497.11V499.54M252.95 497.11h4M252.95 499.54h4" stroke="#333333" stroke-width="0.8" fill="none"/>
<path d="M263.85 491.66V496.51M261.85 491.66h4M261.85 496.51h4" stroke="#333333" stroke-width="0.8" fill="none"/>
<path d="M281.65 485.37V492.63M279.65 485.37h4M279.65 492.63h4" stroke="#333333" stroke-width="0.8" fill="none"/>
<path d="M312.80 477.74V485.00M310.80 477.74h4M310.80 485.00h4" stroke="#333333" stroke-width="0.8" fill="none"/>
<path d="M343.95 474.10V481.37M341.95 474.10h4M341.95 481.37h4" stroke="#333333" stroke-width="0.8" fill="none"/>
<path d="M375.10 473.50V480.76M373.10 473.50h4M373.10 480.76h4" stroke="#333333" stroke-width="0.8" fill="none"/>
<path d="M250.50 490.82V493.24M248.50 490.82h4M248.50 493.24h4" stroke="#333333" stroke-width="0.8" fill="none"/>
<path d="M254.95 488.27V493.12M252.95 488.27h4M252.95 493.12h4" stroke="#333333" stroke-width="0.8" fill="none"/>
<path d="M263.85 486.21V491.06M261.85 486.21h4M261.85 491.06h4" stroke="#333333" stroke-width="0.8" fill="none"/>
<path d="M281.65 482.22V489.48M279.65 482.22h4M279.65 489.48h4" stroke="#333333" stroke-width="0.8" fill="none"/>
<path d="M312.80 477.98V485.25M310.80 477.98h4M310.80 485.25h4" stroke="#333333" stroke-width="0.8" fill="none"/>
<path d="M343.95 473.74V481.01M341.95 473.74h4M341.95 481.01h4" stroke="#333333" stroke-width="0.8" fill="none"/>
<path d="M375.10 473.74V481.01M373.10 473.74h4M373.10 481.01h4" stroke="#333333" stroke-width="0.8" fill="none"/>
<path d="M250.50 482.34V487.18M248.50 482.34h4M248.50 487.18h4" stroke="#333333" stroke-width="0.8" fill="none"/>
<path d="M254.95 476.89V487.79M252.95 476.89h4M252.95 487.79h4" stroke="#333333" stroke-width="0.8" fill="none"/>
<path d="M263.85 476.89V487.79M261.85 476.89h4M261.85 487.79h4" stroke="#333333" stroke-width="0.8" fill="none"/>
<path d="M281.65 472.17V484.28M279.65 472.17h4M279.65 484.28h4" stroke="#333333" stroke-width="0.8" fill="none"/>
<path d="M312.80 465.75V480.28M310.80 465.75h4M310.80 480.28h4" stroke="#333333" stroke-width="0.8" fill="none"/>
<path d="M343.95 460.18V474.71M341.95 460.18h4M341.95 474.71h4" stroke="#333333" stroke-width="0.8" fill="none"/>
<path d="M375.10 459.33V473.86M373.10 459.33h4M373.10 473.86h4" stroke="#333333" stroke-width="0.8" fill="none"/>
<path d="M250.50 473.50V478.34M248.50 473.50h4M248.50 478.34h4" stroke="#333333" stroke-width="0.8" fill="none"/>
<path d="M254.95 469.26V476.53M252.95 469.26h4M252.95 476.53h4" stroke="#333333" stroke-width="0.8" fill="none"/>
<path d="M263.85 466.96V476.65M261.85 466.96h4M261.85 476.65h4" stroke="#333333" stroke-width="0.8" fill="none"/>
<path d="M281.65 460.78V472.89M279.65 460.78h4M279.65 472.89h4" stroke="#333333" stroke-width="0.8" fill="none"/>
<path d="M312.80 453.03V465.14M310.80 453.03h4M310.80 465.14h4" stroke="#333333" stroke-width="0.8" fill="none"/>
<path d="M343.95 446.25V458.36M341.95 446.25h4M341.95 458.36h4" stroke="#333333" stroke-width="0.8" fill="none"/>
<path d="M375.10 440.92V453.03M373.10 440.92h4M373.10 453.03h4" stroke="#333333" stroke-width="0.8" fill="none"/>
<path d="M250.50 466.84V471.68M248.50 466.84h4M248.50 471.68h4" stroke="#333333" stroke-width="0.8" fill="none"/>
<path d="M254.95 460.90V471.80M252.95 460.90h4M252.95 471.80h4" stroke="#333333" stroke-width="0.8" fill="none"/>
<path d="M263.85 460.42V471.32M261.85 460.42h4M261.85 471.32h4" stroke="#333333" stroke-width="0.8" fill="none"/>
<path d="M281.65 451.10V463.21M279.65 451.10h4M279.65 463.21h4" stroke="#333333" stroke-width="0.8" fill="none"/>
<path d="M312.80 440.44V452.55M310.80 440.44h4M310.80 452.55h4" stroke="#333333" stroke-width="0.8" fill="none"/>
<path d="M343.95 435.11V447.22M341.95 435.11h4M341.95 447.22h4" stroke="#333333" stroke-width="0.8" fill="none"/>
<path d="M375.10 431.84V443.95M373.10 431.84h4M373.10 443.95h4" stroke="#333333" stroke-width="0.8" fill="none"/>
<path d="M248.50 496.93l4 4M248.50 500.93l4 -4" stroke="#000" stroke-width="1.2"/>
<path d="M252.95 496.32l4 4M252.95 500.32l4 -4" stroke="#000" stroke-width="1.2"/>
<path d="M261.85 492.09l4 4M261.85 496.09l4 -4" stroke="#000" stroke-width="1.2"/>
<path d="M279.65 487.00l4 4M279.65 491.00l4 -4" stroke="#000" stroke-width="1.2"/>
<path d="M310.80 479.37l4 4M310.80 483.37l4 -4" stroke="#000" stroke-width="1.2"/>
<path d="M341.95 475.74l4 4M341.95 479.74l4 -4" stroke="#000" stroke-width="1.2"/>
<path d="M373.10 475.13l4 4M373.10 479.13l4 -4" stroke="#000" stroke-width="1.2"/>
<circle cx="250.50" cy="492.03" r="2.4" fill="#7030A0"/>
<circle cx="254.95" cy="490.69" r="2.4" fill="#7030A0"/>
<circle cx="263.85" cy="488.64" r="2.4" fill="#7030A0"/>
<circle cx="281.65" cy="485.85" r="2.4" fill="#7030A0"/>
<circle cx="312.80" cy="481.61" r="2.4" fill="#7030A0"/>
<circle cx="343.95" cy="477.37" r="2.4" fill="#7030A0"/>
<circle cx="375.10" cy="477.37" r="2.4" fill="#7030A0"/>
<circle cx="250.50" cy="484.76" r="2.4" fill="#5B9BD5"/>
<circle cx="254.95" cy="482.34" r="2.4" fill="#5B9BD5"/>
<circle cx="263.85" cy="482.34" r="2.4" fill="#5B9BD5"/>
<circle cx="281.65" cy="478.22" r="2.4" fill="#5B9BD5"/>
<circle cx="312.80" cy="473.01" r="2.4" fill="#5B9BD5"/>
<circle cx="343.95" cy="467.44" r="2.4" fill="#5B9BD5"/>
<circle cx="375.10" cy="466.60" r="2.4" fill="#5B9BD5"/>
<circle cx="250.50" cy="475.92" r="2.4" fill="#70AD47"/>
<circle cx="254.95" cy="472.89" r="2.4" fill="#70AD47"/>
<circle cx="263.85" cy="471.80" r="2.4" fill="#70AD47"/>
<circle cx="281.65" cy="466.84" r="2.4" fill="#70AD47"/>
<circle cx="312.80" cy="459.09" r="2.4" fill="#70AD47"/>
<circle cx="343.95" cy="452.31" r="2.4" fill="#70AD47"/>
<circle cx="375.10" cy="446.98" r="2.4" fill="#70AD47"/>
<circle cx="250.50" cy="469.26" r="2.4" fill="#FFC000"/>
<circle cx="254.95" cy="466.35" r="2.4" fill="#FFC000"/>
<circle cx="263.85" cy="465.87" r="2.4" fill="#FFC000"/>
<circle cx="281.65" cy="457.15" r="2.4" fill="#FFC000"/>
<circle cx="312.80" cy="446.49" r="2.4" fill="#FFC000"/>
<circle cx="343.95" cy="441.16" r="2.4" fill="#FFC000"/>
<circle cx="375.10" cy="437.90" r="2.4" fill="#FFC000"/>
</svg></body></html>
